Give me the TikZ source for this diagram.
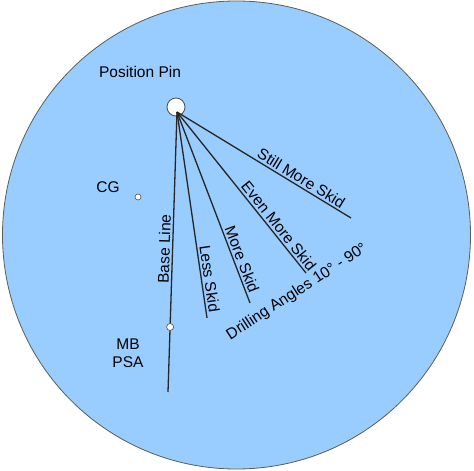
\documentclass[tikz,border=0pt]{standalone}
\usepackage{fontspec}
\setmainfont{Liberation Sans}
\definecolor{disc}{RGB}{153,204,255}
\definecolor{rim}{RGB}{90,95,80}
\begin{document}
\begin{tikzpicture}[x=1pt,y=-1pt,
  lbl/.style={font=\fontsize{15.5}{17.5}\selectfont, inner sep=2pt},
  ray/.style={draw=black!85, line width=1.3pt},
  dot/.style={circle, draw=black!70, fill=white, line width=0.6pt, inner sep=0pt, minimum size=#1}]
\useasboundingbox (0,0) rectangle (474,471);
\fill[white] (0,0) rectangle (474,471);
\draw[fill=disc, draw=rim, line width=0.8pt] (236.5,235) circle [radius=234];

\node[dot=18pt, line width=0.8pt] (pin) at (176,107) {};

\coordinate (o) at (177,112);
\coordinate (eb) at (168,392);
\coordinate (e1) at (207,318);
\coordinate (e2) at (250,303);
\coordinate (e3) at (306,273);
\coordinate (e4) at (351,218);

\draw[ray] (o) -- node[lbl, sloped, above, pos=0.49] {Base Line} (eb);
\draw[ray] (o) -- node[lbl, sloped, above, pos=0.815] {Less Skid} (e1);
\draw[ray] (o) -- node[lbl, sloped, above, pos=0.785] {More Skid} (e2);
\draw[ray] (o) -- node[lbl, sloped, above, pos=0.74] {Even More Skid} (e3);
\draw[ray] (o) -- node[lbl, sloped, above, pos=0.69] {Still More Skid} (e4);

\node[dot=7pt] (mbpt) at (170.1,327) {};
\node[dot=6pt] (cgpt) at (138,197) {};

\node[lbl] (pp) at (140,72) {Position Pin};
\node[lbl] (cg) at (108,187) {CG};
\node[lbl, align=center] (mb) at (128,353) {MB\\PSA};
\node[lbl, rotate=33] (da) at (297,292) {Drilling Angles 10° - 90°};
\end{tikzpicture}
\end{document}
